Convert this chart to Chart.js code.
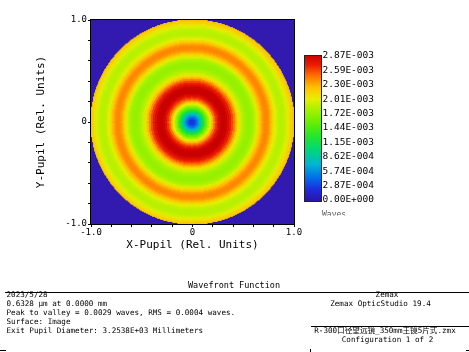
<!DOCTYPE html>
<html>
<head>
<meta charset="utf-8">
<script src="https://cdn.jsdelivr.net/npm/chart.js@4.4.0/dist/chart.umd.min.js"></script>
<style>
  html, body { margin: 0; padding: 0; background: #fff; overflow: hidden; }
  #wrap { width: 469px; height: 352px; }
</style>
</head>
<body>
<div id="wrap"><canvas id="wavefront" width="469" height="352"></canvas></div>
<script>
// radial profile of the wavefront, in 1e-3 waves
const pupilRadius = [0.00, 0.02, 0.04, 0.06, 0.08, 0.10, 0.12, 0.14, 0.16, 0.18,
                     0.20, 0.22, 0.24, 0.26, 0.28, 0.30, 0.32, 0.34, 0.36, 0.38,
                     0.40, 0.42, 0.44, 0.46, 0.48, 0.50, 0.52, 0.54, 0.56, 0.58,
                     0.60, 0.62, 0.64, 0.66, 0.68, 0.70, 0.72, 0.74, 0.76, 0.78,
                     0.80, 0.82, 0.84, 0.86, 0.88, 0.90, 0.92, 0.94, 0.96, 0.98, 1.00];
const waveValue = [0.20, 0.26, 0.38, 0.56, 0.78, 1.02, 1.28, 1.52, 1.75, 1.98,
                   2.22, 2.45, 2.62, 2.75, 2.83, 2.87, 2.87, 2.84, 2.77, 2.68,
                   2.56, 2.40, 2.22, 2.06, 1.94, 1.85, 1.79, 1.75, 1.73, 1.74,
                   1.78, 1.85, 1.96, 2.10, 2.24, 2.34, 2.39, 2.40, 2.35, 2.25,
                   2.12, 2.00, 1.92, 1.87, 1.85, 1.86, 1.90, 1.97, 2.06, 2.14, 2.20];
const waveMax = 2.87;
const barLabels = ['2.87E-003', '2.59E-003', '2.30E-003', '2.01E-003', '1.72E-003', '1.44E-003',
                   '1.15E-003', '8.62E-004', '5.74E-004', '2.87E-004', '0.00E+000'];
const axisLabels = { '-1': '-1.0', '0': '0', '1': '1.0' };
const gridStep = 0.01;

// false colour scale, low to high
const colourStops = [
  [0.00, [45, 20, 165]], [0.08, [30, 45, 220]], [0.16, [0, 110, 235]],
  [0.25, [0, 180, 210]], [0.35, [0, 215, 120]], [0.45, [40, 230, 40]],
  [0.55, [115, 238, 0]], [0.62, [160, 242, 0]], [0.70, [232, 238, 0]],
  [0.78, [255, 190, 0]], [0.86, [255, 110, 0]], [0.93, [235, 30, 0]],
  [1.00, [200, 0, 0]]
];
const outsideColour = '#3219af';
const mono = "'DejaVu Sans Mono', 'Noto Sans CJK SC', monospace";

function waveColour(v) {
  const f = Math.max(0, Math.min(1, v / waveMax));
  for (let i = 1; i < colourStops.length; i++) {
    const [f1, c1] = colourStops[i];
    const [f0, c0] = colourStops[i - 1];
    if (f <= f1) {
      const t = (f - f0) / (f1 - f0);
      const c = c0.map((a, k) => Math.round(a + (c1[k] - a) * t));
      return 'rgb(' + c.join(',') + ')';
    }
  }
  return 'rgb(200,0,0)';
}

function nearestRadius(r) {
  let best = 0;
  for (let i = 1; i < pupilRadius.length; i++) {
    if (Math.abs(pupilRadius[i] - r) < Math.abs(pupilRadius[best] - r)) best = i;
  }
  return best;
}

// map cells inside the unit pupil
const cells = [];
const n = Math.round(2 / gridStep);
for (let i = 0; i <= n; i++) {
  for (let j = 0; j <= n; j++) {
    const x = -1 + i * gridStep;
    const y = -1 + j * gridStep;
    const r = Math.sqrt(x * x + y * y);
    if (r > 1.0001) continue;
    cells.push({ x: x, y: y, v: waveValue[nearestRadius(r)] });
  }
}

function tickText(v) {
  const key = String(Math.round(v * 1000) / 1000);
  return axisLabels[key] !== undefined ? axisLabels[key] : '';
}

const decor = {
  id: 'decor',
  beforeDatasetsDraw(chart) {
    const { ctx, chartArea: a } = chart;
    ctx.save();
    ctx.fillStyle = outsideColour;
    ctx.fillRect(a.left, a.top, a.right - a.left, a.bottom - a.top);
    ctx.restore();
  },
  afterDraw(chart) {
    const { ctx, chartArea: a } = chart;
    ctx.save();
    ctx.strokeStyle = '#000';
    ctx.lineWidth = 1;
    ctx.strokeRect(a.left - 0.5, a.top - 0.5, a.right - a.left + 1, a.bottom - a.top + 1);

    // colour bar
    const bx = 304, bt = 55, bw = 17, bb = 201;
    const g = ctx.createLinearGradient(0, bb, 0, bt);
    colourStops.forEach(s => g.addColorStop(s[0], 'rgb(' + s[1].join(',') + ')'));
    ctx.fillStyle = g;
    ctx.fillRect(bx, bt, bw, bb - bt);
    ctx.strokeStyle = '#222';
    ctx.strokeRect(bx + 0.5, bt + 0.5, bw, bb - bt);
    ctx.fillStyle = '#000';
    ctx.font = '9.5px ' + mono;
    ctx.textBaseline = 'middle';
    ctx.textAlign = 'left';
    barLabels.forEach((t, i) => ctx.fillText(t, 322.5, 56 + i * 14.4));
    ctx.save();
    ctx.beginPath();
    ctx.rect(315, 205, 60, 10.5);
    ctx.clip();
    ctx.font = '8px ' + mono;
    ctx.fillStyle = '#555';
    ctx.fillText('Waves', 322, 215);
    ctx.restore();

    // footer
    ctx.fillStyle = '#000';
    ctx.font = '8.5px ' + mono;
    ctx.textAlign = 'center';
    ctx.fillText('Wavefront Function', 234, 286);
    ctx.beginPath();
    ctx.moveTo(5, 292.5); ctx.lineTo(469, 292.5);
    ctx.moveTo(311, 326.5); ctx.lineTo(469, 326.5);
    ctx.moveTo(0, 350.5); ctx.lineTo(6, 350.5);
    ctx.moveTo(310.5, 349); ctx.lineTo(310.5, 352);
    ctx.moveTo(466, 350.5); ctx.lineTo(469, 350.5);
    ctx.strokeStyle = '#000';
    ctx.stroke();

    ctx.font = '7.6px ' + mono;
    ctx.textAlign = 'left';
    const left = ['2023/5/28', '0.6328 \u00b5m at 0.0000 mm',
                  'Peak to valley = 0.0029 waves, RMS = 0.0004 waves.',
                  'Surface: Image', 'Exit Pupil Diameter: 3.2538E+03 Millimeters'];
    left.forEach((t, i) => ctx.fillText(t, 6.5, 295.5 + i * 9));
    ctx.textAlign = 'center';
    ctx.fillText('Zemax', 387, 295.5);
    ctx.fillText('Zemax OpticStudio 19.4', 380.5, 304.5);
    ctx.fillText('R-300\u53e3\u5f84\u671b\u8fdc\u955c_350mm\u4e3b\u955c5\u7247\u5f0f.zmx', 385, 331.5);
    ctx.fillText('Configuration 1 of 2', 387.5, 340);
    ctx.restore();
  }
};

const tickFont = { family: mono, size: 9 };
const titleFont = { family: mono, size: 11 };

new Chart(document.getElementById('wavefront'), {
  type: 'scatter',
  data: {
    datasets: [{
      data: cells,
      pointStyle: 'rect',
      pointRadius: 1.3,
      pointHoverRadius: 1.3,
      pointBorderWidth: 0,
      pointBackgroundColor: c => waveColour(c.raw.v)
    }]
  },
  options: {
    responsive: false,
    animation: false,
    events: [],
    layout: { padding: { left: 35, top: 20, right: 175, bottom: 100 } },
    plugins: { legend: { display: false }, tooltip: { enabled: false } },
    scales: {
      x: {
        type: 'linear', min: -1, max: 1,
        afterFit: s => { s.height = 28; },
        ticks: { stepSize: 0.2, autoSkip: false, maxRotation: 0, padding: 0,
                 font: tickFont, color: '#000', callback: v => tickText(v) },
        grid: { drawOnChartArea: false, tickLength: 3, color: '#000' },
        border: { color: '#000' },
        title: { display: true, text: 'X-Pupil (Rel. Units)', font: titleFont, color: '#000', padding: 0 }
      },
      y: {
        type: 'linear', min: -1, max: 1,
        afterFit: s => { s.width = 56; },
        ticks: { stepSize: 0.2, autoSkip: false, padding: 1,
                 font: tickFont, color: '#000', callback: v => tickText(v) },
        grid: { drawOnChartArea: false, tickLength: 3, color: '#000' },
        border: { color: '#000' },
        title: { display: true, text: 'Y-Pupil (Rel. Units)', font: titleFont, color: '#000', padding: 0 }
      }
    }
  },
  plugins: [decor]
});
</script>
</body>
</html>
